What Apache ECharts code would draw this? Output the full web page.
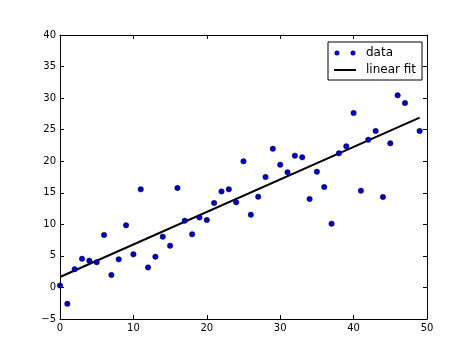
<!DOCTYPE html>
<html><head><meta charset="utf-8">
<script src="https://cdn.jsdelivr.net/npm/echarts@6/dist/echarts.min.js"></script>
<style>html,body{margin:0;padding:0;background:#fff}#c{width:474px;height:355px}</style>
</head><body><div id="c"></div>
<script>
// data points (x = 0..49, x=48 not visible in the reference)
const xValues = [0,1,2,3,4,5,6,7,8,9,10,11,12,13,14,15,16,17,18,19,20,21,22,23,24,25,26,27,28,29,30,31,32,33,34,35,36,37,38,39,40,41,42,43,44,45,46,47,49];
const yValues = [0.3,-2.6,2.9,4.55,4.24,4.0,8.3,1.97,4.45,9.84,
                 5.24,15.54,3.18,4.87,8.04,6.61,15.75,10.58,8.41,11.1,
                 10.68,13.38,15.22,15.54,13.48,19.98,11.53,14.38,17.5,21.99,
                 19.45,18.24,20.88,20.61,14.01,18.34,15.91,10.1,21.25,22.36,
                 27.64,15.33,23.41,24.79,14.33,22.83,30.44,29.22,24.79];
// linear fit end points
const fitX = [0, 49];
const fitY = [1.65, 26.9];
// axes
const xMin = 0, xMax = 50, xStep = 10;
const yMin = -5, yMax = 40, yStep = 5;
const seriesNames = ['data', 'linear fit'];

const font = 'DejaVu Sans';
const dataIcon = 'path://M0,0 M0.5,3a2.5,2.5 0 1,0 5,0a2.5,2.5 0 1,0 -5,0Z M16.5,3a2.5,2.5 0 1,0 5,0a2.5,2.5 0 1,0 -5,0Z M27,6';
const lineIcon = 'path://M0,0 M0,2 L22,2 L22,4 L0,4 Z M27,6';

const chart = echarts.init(document.getElementById('c'), null, {renderer: 'canvas'});
const fmt = v => String(v).replace('-', '\u2212');
const axisCommon = {
  type: 'value',
  axisLine: {show: true, onZero: false, lineStyle: {color: '#000', width: 1}},
  axisTick: {show: true, inside: true, length: 4, lineStyle: {color: '#000', width: 1}},
  splitLine: {show: false},
  axisLabel: {color: '#000', fontSize: 10, fontFamily: font, formatter: fmt}
};
chart.setOption({
  animation: false,
  backgroundColor: '#fff',
  grid: {left: 60, right: 47, top: 35, bottom: 36, containLabel: false},
  xAxis: [
    Object.assign({}, axisCommon, {position: 'bottom', min: xMin, max: xMax, interval: xStep,
      axisLabel: Object.assign({}, axisCommon.axisLabel, {margin: 4})}),
    Object.assign({}, axisCommon, {position: 'top', min: xMin, max: xMax, interval: xStep,
      axisLabel: {show: false}})
  ],
  yAxis: [
    Object.assign({}, axisCommon, {position: 'left', min: yMin, max: yMax, interval: yStep,
      axisLabel: Object.assign({}, axisCommon.axisLabel, {margin: 4})}),
    Object.assign({}, axisCommon, {position: 'right', min: yMin, max: yMax, interval: yStep,
      axisLabel: {show: false}})
  ],
  legend: {
    orient: 'vertical', left: 328, top: 42,
    padding: [5, 6, 4, 6], itemGap: 5,
    itemWidth: 27, itemHeight: 6,
    borderColor: '#000', borderWidth: 1, backgroundColor: '#fff', borderRadius: 0,
    textStyle: {fontFamily: font, fontSize: 12, color: '#000'},
    data: [{name: seriesNames[0], icon: dataIcon, itemStyle: {borderWidth: 0}},
           {name: seriesNames[1], icon: lineIcon, itemStyle: {borderWidth: 0}}]
  },
  series: [
    {
      name: seriesNames[0], type: 'scatter', xAxisIndex: 0, yAxisIndex: 0,
      symbol: 'circle', symbolSize: 5.5,
      itemStyle: {color: '#0000c8', borderColor: '#000', borderWidth: 0.4, opacity: 1},
      data: xValues.map((x, i) => [x, yValues[i]]),
      z: 3
    },
    {
      name: seriesNames[1], type: 'line', xAxisIndex: 0, yAxisIndex: 0,
      symbol: 'none', showSymbol: false,
      lineStyle: {color: '#000', width: 2},
      itemStyle: {color: '#000'},
      data: fitX.map((x, i) => [x, fitY[i]]),
      z: 2
    }
  ]
});
</script></body></html>
